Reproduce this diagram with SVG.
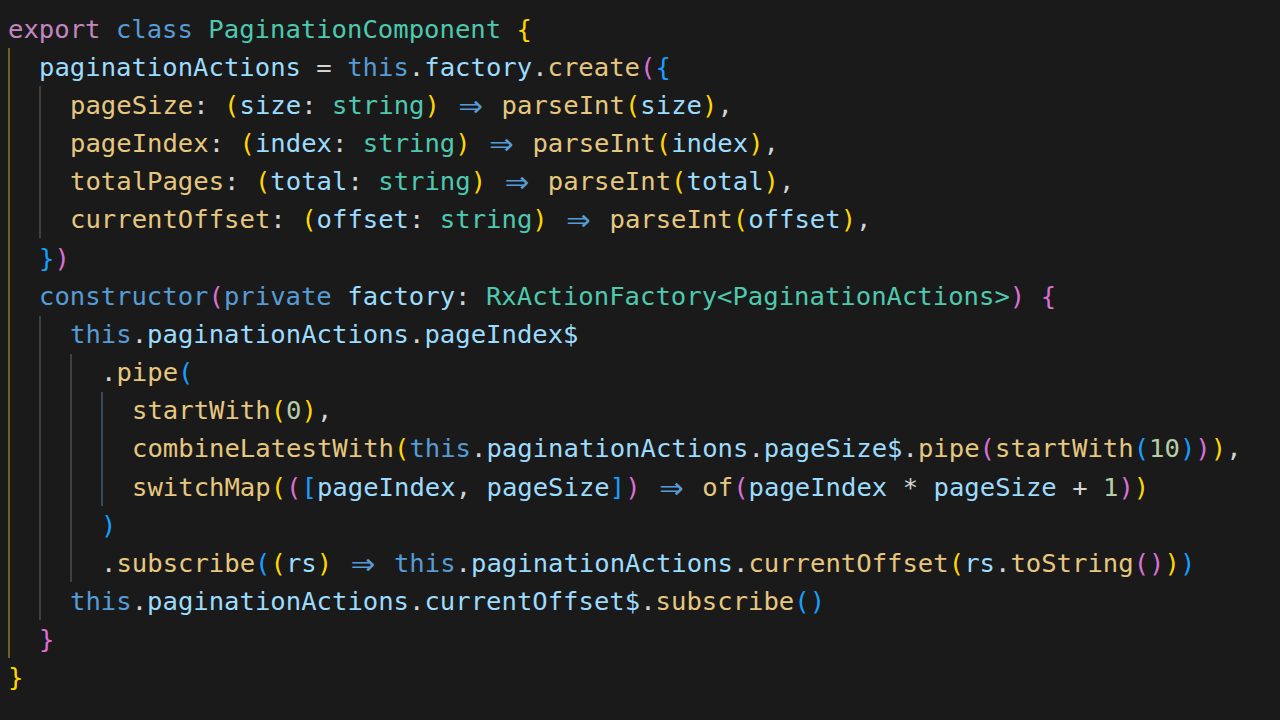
<svg xmlns="http://www.w3.org/2000/svg" width="1280" height="720" viewBox="0 0 1280 720">
<style>
text{font-family:"DejaVu Sans Mono","Liberation Mono",monospace;font-size:25.6px;fill:#d4d4d4;white-space:pre}
.k{fill:#c586c0}.b{fill:#569cd6}.t{fill:#4ec9b0}.v{fill:#9cdcfe}.f{fill:#e6c77f}.n{fill:#b5cea8}
.y{fill:#ffd700}.m{fill:#da70d6}.c{fill:#179fff}.a{fill:#569cd6;font-size:40px}
line{stroke-width:2}
</style>
<rect width="1280" height="720" fill="#1a1a1a"/>
<g id="guides">
<line x1="9" y1="48" x2="9" y2="658" stroke="#6e6224"/>
<line x1="40" y1="86" x2="40" y2="238" stroke="#404040"/>
<line x1="40" y1="316" x2="40" y2="620" stroke="#404040"/>
<line x1="71" y1="354" x2="71" y2="582" stroke="#404040"/>
<line x1="102" y1="392" x2="102" y2="506" stroke="#3a4a5c"/>
</g>
<g id="code" xml:space="preserve">
<text x="8" y="38"><tspan class="k">export</tspan> <tspan class="b">class</tspan> <tspan class="t">PaginationComponent</tspan> <tspan class="y">{</tspan></text>
<text x="39" y="76"><tspan class="v">paginationActions</tspan> = <tspan class="b">this</tspan>.<tspan class="v">factory</tspan>.<tspan class="f">create</tspan><tspan class="m">(</tspan><tspan class="c">{</tspan></text>
<text x="70" y="114"><tspan class="f">pageSize</tspan>: <tspan class="y">(</tspan><tspan class="v">size</tspan>: <tspan class="t">string</tspan><tspan class="y">)</tspan> <tspan class="a" dx="3.4" dy="4">⇒</tspan><tspan dx="3.4" dy="-4"> </tspan><tspan class="f">parseInt</tspan><tspan class="y">(</tspan><tspan class="v">size</tspan><tspan class="y">)</tspan>,</text>
<text x="70" y="152"><tspan class="f">pageIndex</tspan>: <tspan class="y">(</tspan><tspan class="v">index</tspan>: <tspan class="t">string</tspan><tspan class="y">)</tspan> <tspan class="a" dx="3.4" dy="4">⇒</tspan><tspan dx="3.4" dy="-4"> </tspan><tspan class="f">parseInt</tspan><tspan class="y">(</tspan><tspan class="v">index</tspan><tspan class="y">)</tspan>,</text>
<text x="70" y="190"><tspan class="f">totalPages</tspan>: <tspan class="y">(</tspan><tspan class="v">total</tspan>: <tspan class="t">string</tspan><tspan class="y">)</tspan> <tspan class="a" dx="3.4" dy="4">⇒</tspan><tspan dx="3.4" dy="-4"> </tspan><tspan class="f">parseInt</tspan><tspan class="y">(</tspan><tspan class="v">total</tspan><tspan class="y">)</tspan>,</text>
<text x="70" y="228"><tspan class="f">currentOffset</tspan>: <tspan class="y">(</tspan><tspan class="v">offset</tspan>: <tspan class="t">string</tspan><tspan class="y">)</tspan> <tspan class="a" dx="3.4" dy="4">⇒</tspan><tspan dx="3.4" dy="-4"> </tspan><tspan class="f">parseInt</tspan><tspan class="y">(</tspan><tspan class="v">offset</tspan><tspan class="y">)</tspan>,</text>
<text x="39" y="267"><tspan class="c">}</tspan><tspan class="m">)</tspan></text>
<text x="39" y="305"><tspan class="b">constructor</tspan><tspan class="m">(</tspan><tspan class="b">private</tspan> <tspan class="v">factory</tspan>: <tspan class="t">RxActionFactory&lt;PaginationActions&gt;</tspan><tspan class="m">)</tspan> <tspan class="m">{</tspan></text>
<text x="70" y="343"><tspan class="b">this</tspan>.<tspan class="v">paginationActions</tspan>.<tspan class="v">pageIndex$</tspan></text>
<text x="101" y="381">.<tspan class="f">pipe</tspan><tspan class="c">(</tspan></text>
<text x="132" y="419"><tspan class="f">startWith</tspan><tspan class="y">(</tspan><tspan class="n">0</tspan><tspan class="y">)</tspan>,</text>
<text x="132" y="457"><tspan class="f">combineLatestWith</tspan><tspan class="y">(</tspan><tspan class="b">this</tspan>.<tspan class="v">paginationActions</tspan>.<tspan class="v">pageSize$</tspan>.<tspan class="f">pipe</tspan><tspan class="m">(</tspan><tspan class="f">startWith</tspan><tspan class="c">(</tspan><tspan class="n">10</tspan><tspan class="c">)</tspan><tspan class="m">)</tspan><tspan class="y">)</tspan>,</text>
<text x="132" y="496"><tspan class="f">switchMap</tspan><tspan class="y">(</tspan><tspan class="m">(</tspan><tspan class="c">[</tspan><tspan class="v">pageIndex</tspan>, <tspan class="v">pageSize</tspan><tspan class="c">]</tspan><tspan class="m">)</tspan> <tspan class="a" dx="3.4" dy="4">⇒</tspan><tspan dx="3.4" dy="-4"> </tspan><tspan class="f">of</tspan><tspan class="m">(</tspan><tspan class="v">pageIndex</tspan> * <tspan class="v">pageSize</tspan> + <tspan class="n">1</tspan><tspan class="m">)</tspan><tspan class="y">)</tspan></text>
<text x="101" y="534"><tspan class="c">)</tspan></text>
<text x="101" y="572">.<tspan class="f">subscribe</tspan><tspan class="c">(</tspan><tspan class="y">(</tspan><tspan class="v">rs</tspan><tspan class="y">)</tspan> <tspan class="a" dx="3.4" dy="4">⇒</tspan><tspan dx="3.4" dy="-4"> </tspan><tspan class="b">this</tspan>.<tspan class="v">paginationActions</tspan>.<tspan class="f">currentOffset</tspan><tspan class="y">(</tspan><tspan class="v">rs</tspan>.<tspan class="f">toString</tspan><tspan class="m">()</tspan><tspan class="y">)</tspan><tspan class="c">)</tspan></text>
<text x="70" y="610"><tspan class="b">this</tspan>.<tspan class="v">paginationActions</tspan>.<tspan class="v">currentOffset$</tspan>.<tspan class="f">subscribe</tspan><tspan class="c">()</tspan></text>
<text x="39" y="648"><tspan class="m">}</tspan></text>
<text x="8" y="686"><tspan class="y">}</tspan></text>
</g>
</svg>
